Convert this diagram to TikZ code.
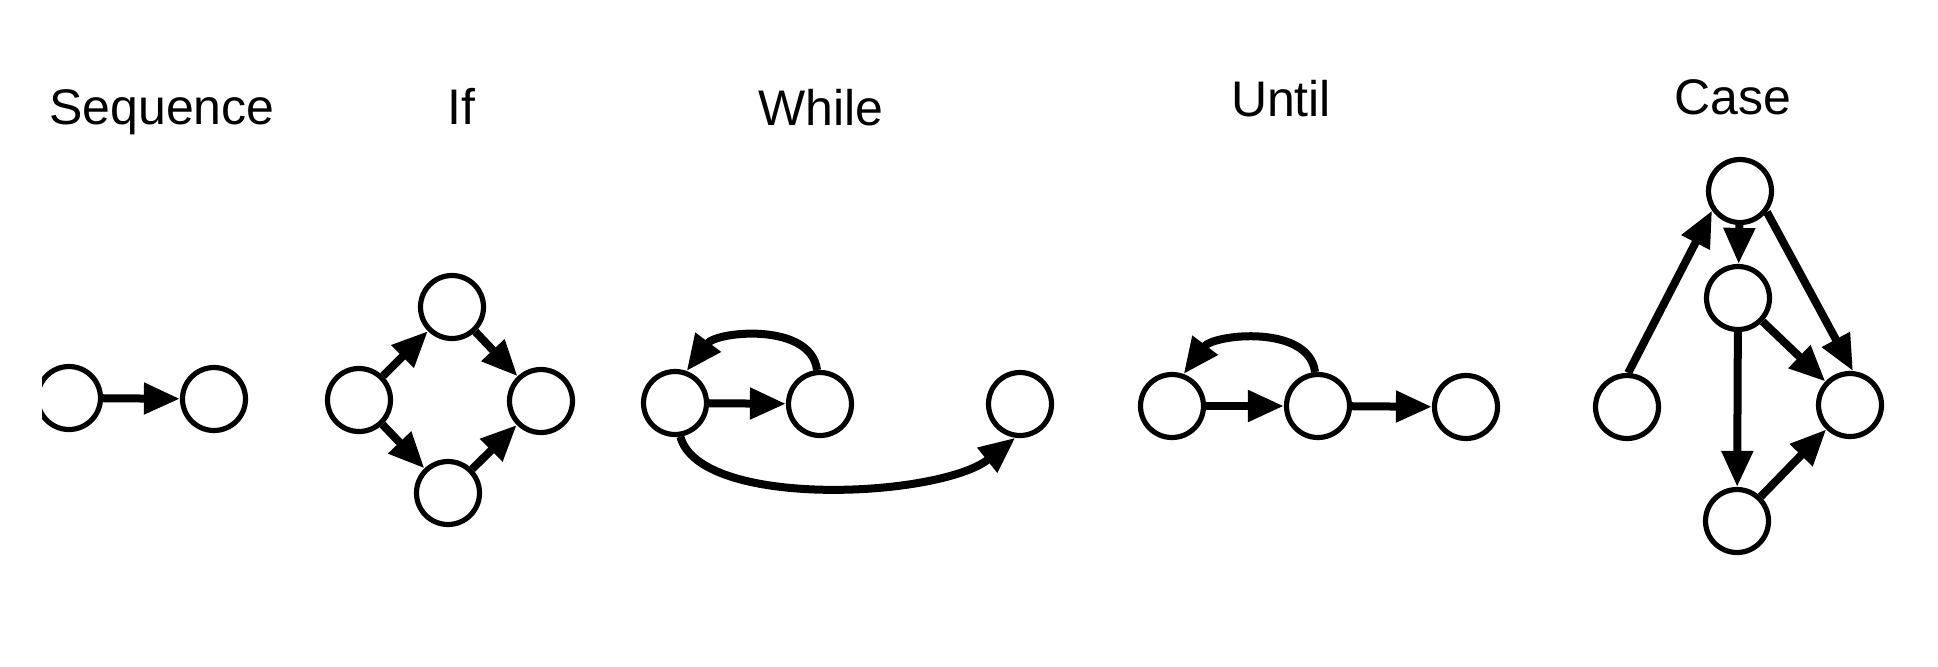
\documentclass[tikz,border=0pt]{standalone}
\usepackage{fontspec}
\setmainfont{Liberation Sans}
\usetikzlibrary{arrows.meta}
\begin{document}
\begin{tikzpicture}[x=0.5pt,y=-0.5pt,
  st/.style={circle,draw=black,line width=2.6pt,minimum size=31.5pt,inner sep=0pt,fill=white},
  ar/.style={line width=4pt,-{Triangle[length=18pt,width=15pt]}},
  lab/.style={anchor=base,font=\fontsize{25pt}{29pt}\selectfont,inner sep=0pt}]
\useasboundingbox (0,0) rectangle (1938,666);
% labels
\node[lab] (lseq) at (162,124) {Sequence};
\node[lab] (lif) at (461,124) {If};
\node[lab] (lwhile) at (821,125) {While};
\node[lab] (luntil) at (1281,116) {Until};
\node[lab] (lcase) at (1733,114) {Case};
% Sequence
\begin{scope}
\clip (42,300) rectangle (300,500);
\node[st] (s1) at (69,398) {};
\end{scope}
\node[st] (s2) at (214,399) {};
\draw[ar] (s1) -- (s2);
% If
\node[st] (i1) at (359,400) {};
\node[st] (i2) at (452,307) {};
\node[st] (i3) at (541,401) {};
\node[st] (i4) at (448,493) {};
\draw[ar] (i1) -- (i2);
\draw[ar] (i2) -- (i3);
\draw[ar] (i1) -- (i4);
\draw[ar] (i4) -- (i3);
% While
\node[st] (w1) at (675,403) {};
\node[st] (w2) at (820,404) {};
\node[st] (w3) at (1020,404) {};
\draw[ar] (w1) -- (w2);
\draw[ar] (w2.95) .. controls +(-6,-48) and +(30,-40) .. (w1.70);
\draw[ar] (w1.279) .. controls +(20,73) and +(-75,60) .. (w3.262);
% Until
\node[st] (u1) at (1172,406) {};
\node[st] (u2) at (1318,406) {};
\node[st] (u3) at (1466,407) {};
\draw[ar] (u1) -- (u2);
\draw[ar] (u2) -- (u3);
\draw[ar] (u2.95) .. controls +(-6,-48) and +(30,-40) .. (u1.70);
% Case
\node[st] (c1) at (1740,191) {};
\node[st] (c2) at (1738,298) {};
\node[st] (c3) at (1627,407) {};
\node[st] (c4) at (1850,405) {};
\node[st] (c5) at (1737,521) {};
\draw[ar] (c3.88) -- (c1.215);
\draw[ar] (c1) -- (c2);
\draw[ar] (c1.322) -- (c4.85);
\draw[ar] (c2) -- (c4);
\draw[ar] (c2) -- (c5);
\draw[ar] (c5) -- (c4);
\end{tikzpicture}
\end{document}
